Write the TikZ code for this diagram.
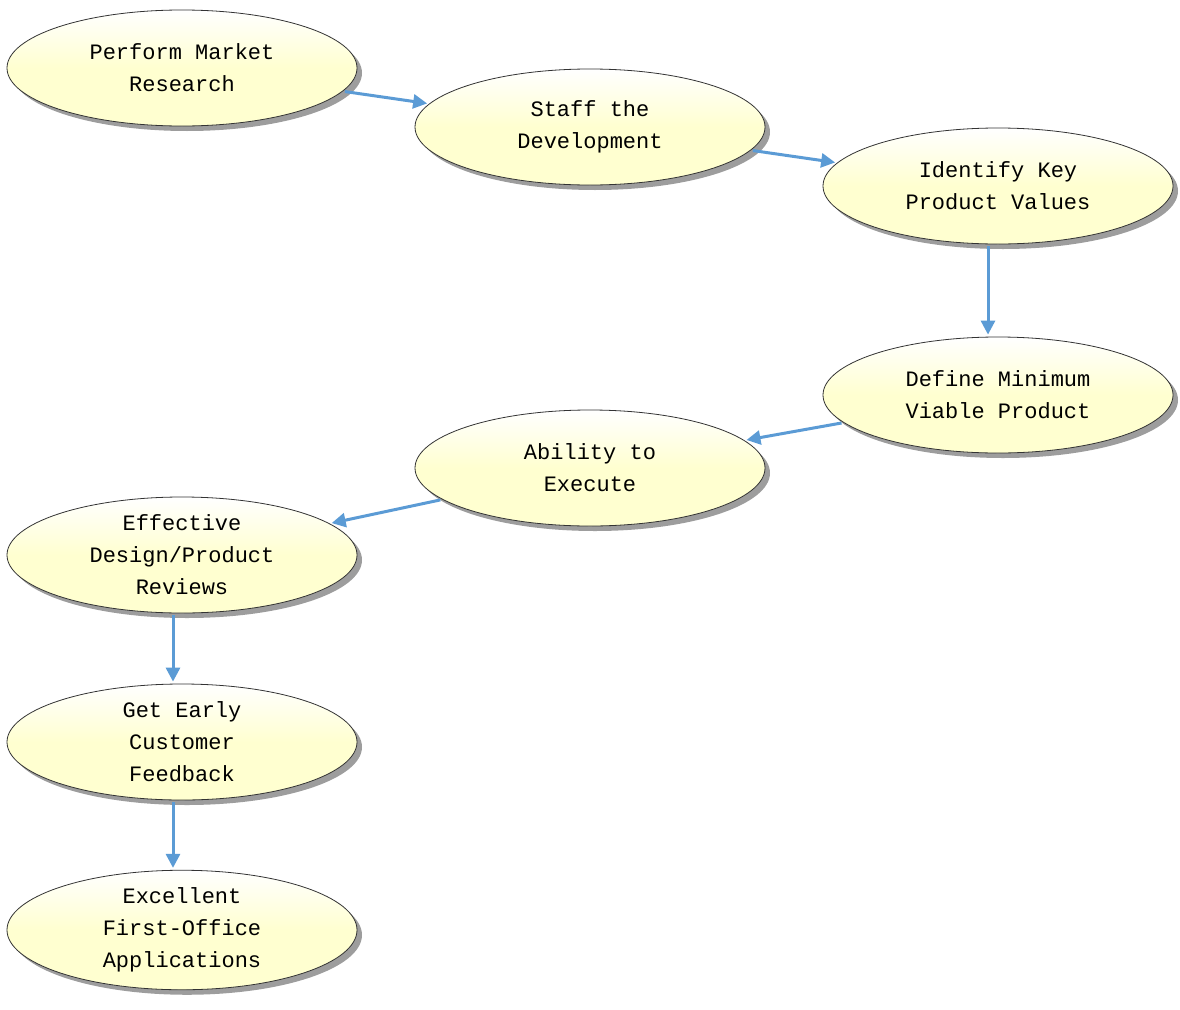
\documentclass[tikz,border=0pt]{standalone}
\usepackage{fontspec}
\setmainfont{Liberation Mono}
\usetikzlibrary{shapes.geometric,shadows,arrows.meta}
\definecolor{fillY}{HTML}{FFFFD0}
\definecolor{arr}{HTML}{5B9BD5}
\begin{document}
\begin{tikzpicture}[x=1pt,y=-1pt,
  st/.style={ellipse,minimum width=350pt,minimum height=116pt,inner sep=0pt,
    draw=black!80,line width=0.8pt,top color=white,bottom color=fillY,middle color=fillY,
    drop shadow={shadow xshift=5pt,shadow yshift=-5pt,opacity=.55,fill=black!70},
    align=center,font=\fontsize{22}{32}\selectfont},
  ar/.style={draw=arr,line width=3pt,-{Triangle[length=14pt,width=14pt]},shorten >=2pt,shorten <=2pt}]
\useasboundingbox (0,0) rectangle (1180,1009);
\node[st] (a) at (182,68) {Perform Market\\Research};
\node[st] (b) at (590,127) {Staff the\\Development};
\node[st] (c) at (998,186) {Identify Key\\Product Values};
\node[st] (d) at (998,395) {Define Minimum\\Viable Product};
\node[st] (e) at (590,468) {Ability to\\Execute};
\node[st] (f) at (182,555) {Effective\\Design/Product\\Reviews};
\node[st] (g) at (182,742) {Get Early\\Customer\\Feedback};
\node[st] (h) at (182,930) {Excellent\\First-Office\\Applications};
\draw[ar] (a) -- (b);
\draw[ar] (b) -- (c);
\draw[ar] ([xshift=-10pt]c.south) -- ([xshift=-10pt]d.north);
\draw[ar] (d) -- (e);
\draw[ar] (e) -- (f);
\draw[ar] ([xshift=-9pt]f.south) -- ([xshift=-9pt]g.north);
\draw[ar] ([xshift=-9pt]g.south) -- ([xshift=-9pt]h.north);
\end{tikzpicture}
\end{document}
